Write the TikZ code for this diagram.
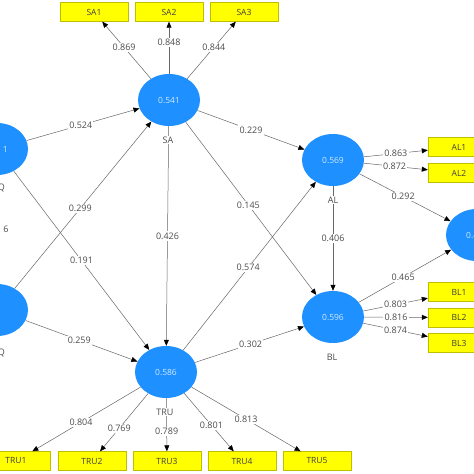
\documentclass[tikz,border=0pt]{standalone}
\usepackage{fontspec}
\setmainfont{Open Sans}
\usetikzlibrary{shapes.geometric,arrows.meta}
\definecolor{plsblue}{HTML}{1E90FF}
\definecolor{plsyellow}{HTML}{FFFF00}
\begin{document}
\begin{tikzpicture}[x=1pt,y=-1pt,
  lv/.style={ellipse,fill=plsblue,minimum width=62pt,minimum height=52pt,inner sep=0pt,text=white!80!plsblue,font=\fontsize{8.5}{9}\selectfont},
  ind/.style={rectangle,fill=plsyellow,draw=plsyellow!75!black,line width=0.4pt,minimum width=68pt,minimum height=19pt,inner sep=0pt,text=black!75,font=\fontsize{8.5}{9}\selectfont},
  indside/.style={ind,minimum width=62pt},
  lvname/.style={fill=white,inner sep=1pt,text=black!70,font=\fontsize{9}{10}\selectfont},
  coef/.style={fill=white,inner sep=1.2pt,text=black!70,font=\fontsize{9}{10}\selectfont},
  rel/.style={draw=black!60,line width=0.5pt,-{Triangle[length=6pt,width=5pt,color=black]}}]
\useasboundingbox (0,0) rectangle (474,474);

% Latent variables
\node[lv] (Q1) at (-3,149) {\phantom{0.00}1};
\node[lv] (Q2) at (-3,310) {};
\node[lv] (SA) at (169,100) {0.541};
\node[lv] (AL) at (333,160) {0.569};
\node[lv] (BL) at (333,317) {0.596};
\node[lv] (TRU) at (166,372) {0.586};
\node[lv] (BI) at (477,235) {0.4\phantom{00}};

% Indicators
\node[ind] (SA1) at (94,12) {SA1};
\node[ind] (SA2) at (169,12) {SA2};
\node[ind] (SA3) at (244,12) {SA3};
\node[indside] (AL1) at (459,147) {AL1};
\node[indside] (AL2) at (459,173) {AL2};
\node[indside] (BL1) at (459,292) {BL1};
\node[indside] (BL2) at (459,317.5) {BL2};
\node[indside] (BL3) at (459,343) {BL3};
\node[ind] (TRU1) at (16,461) {TRU1};
\node[ind] (TRU2) at (92,461) {TRU2};
\node[ind] (TRU3) at (167,461) {TRU3};
\node[ind] (TRU4) at (242,461) {TRU4};
\node[ind] (TRU5) at (317,461) {TRU5};

% Path coefficients
\draw[rel] (Q1) -- node[coef,pos=0.5] {\phantom{0.00}6} (Q2);
\draw[rel] (Q1) -- node[coef,pos=0.48] {0.524} (SA);
\draw[rel] (Q1) -- node[coef,pos=0.5] {0.191} (TRU);
\draw[rel] (Q2) -- node[coef,pos=0.48] {0.299} (SA);
\draw[rel] (Q2) -- node[coef,pos=0.48] {0.259} (TRU);
\draw[rel] (SA) -- node[coef,pos=0.5] {0.426} (TRU);
\draw[rel] (SA) -- node[coef,pos=0.5] {0.229} (AL);
\draw[rel] (SA) -- node[coef,pos=0.48] {0.145} (BL);
\draw[rel] (TRU) -- node[coef,pos=0.49] {0.574} (AL);
\draw[rel] (TRU) -- node[coef,pos=0.51] {0.302} (BL);
\draw[rel] (AL) -- node[coef,pos=0.5] {0.406} (BL);
\draw[rel] (AL) -- node[coef,pos=0.48] {0.292} (BI);
\draw[rel] (BL) -- node[coef,pos=0.48] {0.465} (BI);

% Outer loadings
\draw[rel] (SA) -- node[coef,pos=0.55] {0.869} (SA1);
\draw[rel] (SA) -- node[coef,pos=0.6] {0.848} (SA2);
\draw[rel] (SA) -- node[coef,pos=0.55] {0.844} (SA3);
\draw[rel] (AL) -- node[coef,pos=0.5] {0.863} (AL1);
\draw[rel] (AL) -- node[coef,pos=0.48] {0.872} (AL2);
\draw[rel] (BL) -- node[coef,pos=0.5] {0.803} (BL1);
\draw[rel] (BL) -- node[coef,pos=0.5] {0.816} (BL2);
\draw[rel] (BL) -- node[coef,pos=0.5] {0.874} (BL3);
\draw[rel] (TRU) -- node[coef,pos=0.55] {0.804} (TRU1);
\draw[rel] (TRU) -- node[coef,pos=0.6] {0.769} (TRU2);
\draw[rel] (TRU) -- node[coef,pos=0.62] {0.789} (TRU3);
\draw[rel] (TRU) -- node[coef,pos=0.55] {0.801} (TRU4);
\draw[rel] (TRU) -- node[coef,pos=0.5] {0.813} (TRU5);

% Construct names
\node[lvname] (Q1name) at (-1,188) {\phantom{S}Q};
\node[lvname] (Q2name) at (-1,353) {\phantom{S}Q};
\node[lvname] (SAname) at (168,140) {SA};
\node[lvname] (ALname) at (333,200) {AL};
\node[lvname] (BLname) at (332,357) {BL};
\node[lvname] (TRUname) at (165,412) {TRU};
\end{tikzpicture}
\end{document}
